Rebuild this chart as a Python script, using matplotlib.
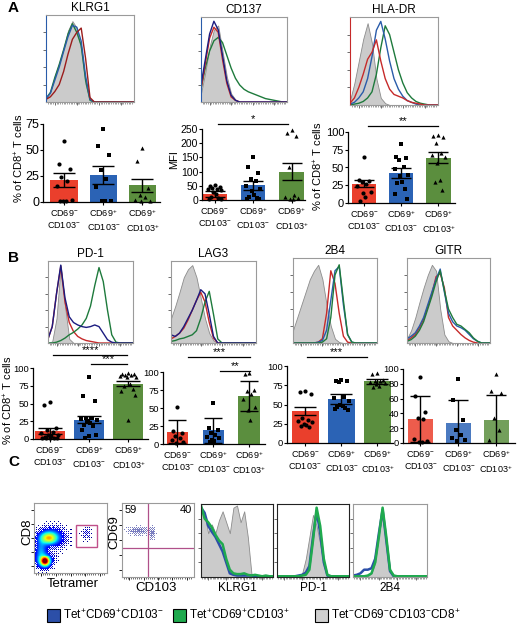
import numpy as np
import matplotlib
matplotlib.use('Agg')
import matplotlib.pyplot as plt
from matplotlib.patches import Rectangle
from matplotlib.colors import ListedColormap

plt.rcParams['font.family'] = ['Liberation Sans', 'DejaVu Sans']
plt.rcParams['mathtext.fontset'] = 'custom'
plt.rcParams['mathtext.rm'] = 'Liberation Sans'
plt.rcParams['mathtext.it'] = 'Liberation Sans:italic'
plt.rcParams['mathtext.bf'] = 'Liberation Sans:bold'

# ---------------- data ----------------
cats = ['CD69$^{-}$\nCD103$^{-}$', 'CD69$^{+}$\nCD103$^{-}$', 'CD69$^{+}$\nCD103$^{+}$']

# panel A bars
a1_means = [21, 26, 16]
a1_err = [7, 9, 6]
a1_red = [59, 37, 32, 24, 20, 15, 2, 1, 1, 1]
a1_blue = [70, 54, 45, 31, 22, 14, 1, 1, 1]
a1_green = [52, 39, 13, 7, 5, 2, 1, 1]

a2_means = [21, 52, 100]
a2_err = [12, 16, 30]
a2_red = [52, 48, 45, 42, 40, 38, 35, 28, 20, 12, 6, 3, 2]
a2_blue = [150, 115, 96, 75, 66, 50, 40, 31, 17, 12, 6, 2, 2]
a2_green = [245, 235, 225, 115, 18, 12, 8, 4, 2]

a3_means = [27, 42, 64]
a3_err = [5, 7, 8]
a3_red = [65, 33, 31, 30, 27, 24, 16, 14, 8, 3]
a3_blue = [83, 65, 63, 60, 50, 48, 40, 38, 30, 28, 20, 12, 5]
a3_green = [96, 95, 93, 85, 70, 68, 65, 56, 32, 30, 18]

# panel B bars
b1_means = [11, 27, 78]
b1_err = [4, 5, 4]
b1_red = [52, 48, 16, 13, 10, 8, 6, 5, 4, 3, 2, 1, 1, 1, 1]
b1_blue = [88, 60, 53, 30, 29, 28, 27, 25, 22, 20, 18, 13, 6, 4, 1]
b1_green = [93, 92, 91, 90, 90, 89, 88, 88, 78, 75, 70, 68, 62, 27]

b2_means = [17, 19, 67]
b2_err = [16, 17, 21]
b2_red = [52, 18, 15, 11, 9, 5, 3, 1]
b2_blue = [57, 22, 20, 15, 12, 10, 8, 6, 4, 3]
b2_green = [99, 97, 75, 73, 70, 62, 52, 47, 33]

b3_means = [42, 57, 80]
b3_err = [5, 6, 3]
b3_red = [68, 66, 64, 32, 30, 28, 27, 25, 24, 22, 21]
b3_blue = [82, 81, 80, 79, 60, 58, 55, 50, 48, 47, 45, 44, 43]
b3_green = [91, 90, 82, 81, 80, 79, 78, 76, 74, 73]

b4_means = [33, 27, 31]
b4_err = [31, 31, 34]
b4_red = [89, 63, 42, 34, 32, 5, 3, 2, 2]
b4_blue = [87, 58, 31, 18, 11, 7, 4, 3]
b4_green = [93, 70, 67, 34, 18, 4]

# histogram curves (fraction of max), common x positions
hist_x = [i / 20 for i in range(21)]
z = [0] * 10

klrg1_gray = [0.05, 0.12, 0.3, 0.45, 0.62, 0.82, 0.93, 0.85, 0.6, 0.2, 0.02] + z
klrg1_red = [0.03, 0.06, 0.12, 0.2, 0.35, 0.55, 0.72, 0.8, 0.85, 0.5, 0.05] + z
klrg1_blue = [0.04, 0.1, 0.25, 0.4, 0.58, 0.75, 0.88, 0.86, 0.7, 0.3, 0.03] + z
klrg1_green = [0.04, 0.11, 0.28, 0.43, 0.6, 0.78, 0.9, 0.8, 0.65, 0.25, 0.02] + z

cd137_gray = [0.1, 0.35, 0.65, 0.85, 0.9, 0.6, 0.3, 0.1, 0.03, 0, 0] + z
cd137_blue = [0.2, 0.5, 0.8, 0.95, 0.85, 0.55, 0.25, 0.08, 0.02, 0, 0] + z
cd137_red = [0.15, 0.45, 0.75, 0.88, 0.82, 0.5, 0.22, 0.06, 0.02, 0, 0] + z
cd137_green = [0.15, 0.4, 0.6, 0.72, 0.76, 0.7, 0.55, 0.4, 0.28, 0.2, 0.15,
               0.12, 0.1, 0.08, 0.06, 0.04, 0.03, 0.02, 0.01, 0, 0]

hla_gray = [0.05, 0.25, 0.5, 0.75, 0.93, 0.7, 0.3, 0.08, 0.02, 0, 0] + z
hla_red = [0.02, 0.08, 0.2, 0.35, 0.52, 0.6, 0.74, 0.5, 0.3, 0.18, 0.12,
           0.1, 0.08, 0.05, 0.03, 0.02, 0.01, 0, 0, 0, 0]
hla_blue = [0.01, 0.03, 0.08, 0.15, 0.3, 0.55, 0.85, 0.95, 0.75, 0.5, 0.3,
            0.18, 0.1, 0.05, 0.03, 0.01, 0, 0, 0, 0, 0]
hla_green = [0, 0.01, 0.02, 0.04, 0.08, 0.15, 0.35, 0.65, 0.9, 0.8, 0.6,
             0.4, 0.25, 0.14, 0.08, 0.04, 0.02, 0.01, 0, 0, 0]

pd1_gray = [0, 0.02, 0.3, 0.95, 0.45, 0.05, 0, 0, 0, 0, 0] + z
pd1_blue = [0.05, 0.2, 0.6, 0.95, 0.55, 0.32, 0.25, 0.22, 0.2, 0.19, 0.2,
            0.22, 0.2, 0.12, 0.04, 0.01, 0, 0, 0, 0, 0]
pd1_red = [0.05, 0.2, 0.6, 0.93, 0.5, 0.25, 0.14, 0.08, 0.05, 0.03, 0.02,
           0.01, 0, 0, 0, 0, 0, 0, 0, 0, 0]
pd1_green = [0, 0, 0.01, 0.03, 0.06, 0.1, 0.13, 0.17, 0.22, 0.3, 0.45,
             0.7, 0.92, 0.75, 0.4, 0.1, 0.01, 0, 0, 0, 0]

lag3_gray = [0.3, 0.45, 0.62, 0.8, 0.9, 0.95, 0.8, 0.55, 0.3, 0.12, 0.03] + z
lag3_red = [0.05, 0.08, 0.12, 0.18, 0.28, 0.4, 0.52, 0.62, 0.5, 0.25, 0.06] + z
lag3_blue = [0.1, 0.08, 0.12, 0.2, 0.3, 0.4, 0.52, 0.65, 0.6, 0.35, 0.08] + z
lag3_green = [0.02, 0.03, 0.05, 0.06, 0.08, 0.1, 0.15, 0.3, 0.5, 0.63, 0.35,
              0.05, 0, 0, 0, 0, 0, 0, 0, 0, 0]

b2b4_gray = [0.15, 0.3, 0.45, 0.6, 0.75, 0.85, 0.92, 0.75, 0.45, 0.2, 0.05,
             0.01, 0, 0, 0, 0, 0, 0, 0, 0, 0]
b2b4_red = [0, 0, 0, 0, 0, 0, 0.01, 0.05, 0.35, 0.85, 0.7,
            0.35, 0.08, 0.01, 0, 0, 0, 0, 0, 0, 0]
b2b4_blue = [0, 0, 0, 0, 0, 0, 0.01, 0.03, 0.15, 0.5, 0.85,
             0.9, 0.45, 0.1, 0.01, 0, 0, 0, 0, 0, 0]
b2b4_green = [0, 0, 0, 0, 0, 0, 0, 0.01, 0.05, 0.3, 0.8,
              0.92, 0.5, 0.1, 0.01, 0, 0, 0, 0, 0, 0]

gitr_gray = [0.05, 0.15, 0.3, 0.48, 0.65, 0.8, 0.92, 0.85, 0.4, 0.1, 0.02] + z
gitr_blue = [0.05, 0.08, 0.12, 0.2, 0.3, 0.45, 0.6, 0.75, 0.87, 0.6, 0.35,
             0.25, 0.2, 0.18, 0.15, 0.1, 0.05, 0.02, 0, 0, 0]
gitr_red = [0.03, 0.06, 0.1, 0.18, 0.28, 0.42, 0.58, 0.78, 0.82, 0.65, 0.3,
            0.2, 0.15, 0.1, 0.06, 0.03, 0.01, 0, 0, 0, 0]
gitr_green = [0.02, 0.04, 0.08, 0.15, 0.25, 0.4, 0.55, 0.72, 0.85, 0.62, 0.4,
              0.3, 0.22, 0.2, 0.16, 0.12, 0.06, 0.02, 0, 0, 0]

c_klrg1_gray = [0.9, 0.85, 0.6, 0.72, 0.6, 0.78, 0.9, 0.75, 0.6, 0.95, 0.98,
                0.75, 0.9, 0.55, 0.05, 0, 0, 0, 0, 0, 0]
c_klrg1_blue = [0.95, 0.88, 0.7, 0.62, 0.55, 0.45, 0.35, 0.2, 0.05, 0.03, 0.02,
                0.02, 0.02, 0.02, 0.02, 0.01, 0.01, 0.01, 0.01, 0.01, 0.01]
c_klrg1_green = [0.98, 0.8, 0.75, 0.68, 0.58, 0.5, 0.45, 0.25, 0.1, 0.05, 0.04,
                 0.04, 0.05, 0.03, 0.02, 0.03, 0.02, 0.01, 0.02, 0.01, 0.01]

c_pd1_gray = [0, 0, 0, 0, 0, 0.01, 0.02, 0.05, 0.25, 0.55, 0.85,
              0.7, 0.45, 0.15, 0.02, 0, 0, 0, 0, 0, 0]
c_pd1_blue = [0.01, 0.01, 0.01, 0.01, 0.01, 0.01, 0.02, 0.03, 0.06, 0.15, 0.55,
              0.9, 0.6, 0.2, 0.02, 0.01, 0.01, 0.01, 0.01, 0.01, 0.01]
c_pd1_green = [0.01, 0.01, 0.01, 0.01, 0.01, 0.01, 0.01, 0.02, 0.03, 0.1, 0.5,
               0.95, 0.7, 0.25, 0.03, 0.01, 0.01, 0.01, 0.01, 0.01, 0.01]

c_2b4_gray = [0, 0, 0, 0, 0.01, 0.05, 0.2, 0.6, 0.85, 0.45, 0.1,
              0.01, 0, 0, 0, 0, 0, 0, 0, 0, 0]
c_2b4_blue = [0.02, 0.03, 0.05, 0.1, 0.1, 0.12, 0.25, 0.6, 0.92, 0.5, 0.08,
              0.01, 0.01, 0.01, 0.01, 0.01, 0.01, 0.01, 0.01, 0.01, 0.01]
c_2b4_green = [0.01, 0.01, 0.01, 0.01, 0.02, 0.05, 0.2, 0.55, 0.95, 0.55, 0.1,
               0.02, 0.01, 0.01, 0.01, 0.01, 0.01, 0.01, 0.01, 0.01, 0.01]

# flow dot plot populations: (x, y, sx, sy, weight)
tet_pops = [(0.15, 0.16, 0.045, 0.045, 0.95),
            (0.13, 0.18, 0.08, 0.08, 0.3),
            (0.2, 0.5, 0.08, 0.055, 0.6),
            (0.24, 0.52, 0.13, 0.09, 0.2),
            (0.09, 0.33, 0.05, 0.1, 0.25),
            (0.3, 0.45, 0.14, 0.2, 0.03),
            (0.72, 0.57, 0.05, 0.08, 0.08)]
cd103_pops = [(0.22, 0.63, 0.1, 0.04, 0.14),
              (0.42, 0.6, 0.03, 0.06, 0.13)]
quad_pct = ['59', '40']

# ---------------- style ----------------
W, H = 520, 624
RED, BLUE, GREEN = '#ea3f2c', '#2b63b5', '#5b8e3e'
H_RED, H_BLUE, H_GREEN, H_NAVY = '#c62a2a', '#2a5caa', '#1e7a3c', '#1c1c80'
C_BLUE, C_GREEN = '#2c4fa8', '#1faa4e'
spread = [0, -0.2, 0.2, -0.1, 0.1, -0.27, 0.27, -0.05, 0.05, -0.15, 0.15,
          -0.24, 0.24, 0.0, -0.12, 0.12]
bayer = np.array([[0, 8, 2, 10], [12, 4, 14, 6], [3, 11, 1, 9], [15, 7, 13, 5]]) / 16

fig = plt.figure(figsize=(5.2, 6.24), dpi=100)


def px_axes(x0, y0, x1, y1):
    return fig.add_axes([x0 / W, 1 - y1 / H, (x1 - x0) / W, (y1 - y0) / H])


def px_text(x, y, s, **kw):
    fig.text(x / W, 1 - y / H, s, **kw)


def bar_panel(box, xlim, means, errs, groups, ylim, yticks, width, fs=8.5, light=False):
    ax = px_axes(*box)
    cols = [RED, BLUE, GREEN]
    alpha = 0.85 if light else 1
    ax.bar(range(3), means, width=width, color=cols, alpha=alpha, zorder=1)
    marks = ['o', 's', '^']
    for i, vals in enumerate(groups):
        xs = [i + spread[k % len(spread)] * width for k in range(len(vals))]
        ax.scatter(xs, vals, marker=marks[i], s=9, color='black', zorder=3,
                   lw=0, clip_on=False)
    ax.errorbar(range(3), means, yerr=errs, fmt='none', ecolor='black',
                elinewidth=1, capsize=width * 11, capthick=1, zorder=4)
    ax.set_xlim(*xlim)
    ax.set_ylim(*ylim)
    ax.set_yticks(yticks)
    ax.set_xticks(range(3))
    ax.set_xticklabels(cats, fontsize=6.5, linespacing=1.3)
    ax.tick_params(axis='y', labelsize=fs, length=2, width=0.8, pad=0.8)
    ax.tick_params(axis='x', length=2, width=0.8, pad=2)
    for s in ['top', 'right']:
        ax.spines[s].set_visible(False)
    for s in ['left', 'bottom']:
        ax.spines[s].set_linewidth(0.9)
    return ax


def sig(ax, x0, x1, y, label):
    ax.plot([x0, x1], [y, y], color='black', lw=0.9, clip_on=False)
    ax.annotate(label, xy=((x0 + x1) / 2, y), xytext=(0, 0),
                textcoords='offset points', ha='center', va='bottom',
                fontsize=8, annotation_clip=False)


def hist_panel(box, gray, curves, title=None, frame='#9a9a9a', lw=1.0):
    ax = px_axes(*box)
    ax.fill_between(hist_x, gray, color='#cbcbcb', ec='#8c8c8c', lw=0.6)
    for y, c in curves:
        ax.plot(hist_x, y, color=c, lw=lw)
    ax.set_xlim(0, 1)
    ax.set_ylim(0, 1)
    ax.set_xticks([0.1, 0.35, 0.6, 0.85])
    ax.set_xticks([0.02 * k for k in range(1, 50)], minor=True)
    ax.set_yticks([0.2, 0.4, 0.6, 0.8])
    ax.set_xticklabels([])
    ax.set_yticklabels([])
    ax.tick_params(which='major', length=2.5, width=0.6, color='#555555')
    ax.tick_params(which='minor', length=1.2, width=0.4, color='#555555')
    for s in ax.spines.values():
        s.set_color(frame)
        s.set_linewidth(0.8)
    if title:
        ax.set_title(title, fontsize=8.5, pad=3)
    return ax


def density(pops, n=72, lo=0.015, span=0.15):
    # smooth density, thinned out with an ordered dither so sparse areas look dotted
    g = np.linspace(0, 1, n)
    X, Y = np.meshgrid(g, g)
    d = np.zeros_like(X)
    for cx, cy, sx, sy, w in pops:
        d += w * np.exp(-((X - cx) ** 2 / (2 * sx ** 2) + (Y - cy) ** 2 / (2 * sy ** 2)))
    thr = lo + span * np.tile(bayer, (n // 4 + 1, n // 4 + 1))[:n, :n]
    return np.ma.masked_where(d < thr, d)


# ---------------- panel A ----------------
px_text(8, 8, 'A', fontsize=11, fontweight='bold', ha='left', va='center')
ax = hist_panel((46, 15, 134, 102), klrg1_gray,
                [(klrg1_green, H_GREEN), (klrg1_blue, H_BLUE), (klrg1_red, '#9b1c1c')], 'KLRG1')
ax.spines['left'].set_color(H_BLUE)
ax = hist_panel((201, 17, 287, 102), cd137_gray,
                [(cd137_green, H_GREEN), (cd137_red, H_RED), (cd137_blue, H_NAVY)], 'CD137')
ax.spines['left'].set_color(H_BLUE)
ax = hist_panel((350, 17, 438, 105), hla_gray,
                [(hla_green, H_GREEN), (hla_blue, H_BLUE), (hla_red, H_RED)], 'HLA-DR')
ax.spines['left'].set_color(H_RED)

ax = bar_panel((43, 124, 160, 202), (-0.54, 2.45), a1_means, a1_err,
               [a1_red, a1_blue, a1_green], (0, 75), [0, 25, 50, 75], 0.7, fs=9)
ax = bar_panel((202, 129, 305, 200), (-0.33, 2.35), a2_means, a2_err,
               [a2_red, a2_blue, a2_green], (0, 250), [0, 50, 100, 150, 200, 250], 0.64,
               fs=7.5)
sig(ax, 0.08, 1.92, 268, '*')
ax = bar_panel((348, 132, 455, 203), (-0.43, 2.45), a3_means, a3_err,
               [a3_red, a3_blue, a3_green], (0, 100), [0, 25, 50, 75, 100], 0.66, fs=8)
sig(ax, 0.1, 2.0, 108, '**')

px_text(19, 158, '% of CD8$^{+}$ T cells', fontsize=8, rotation=90, ha='center', va='center')
px_text(174, 160, 'MFI', fontsize=8, rotation=90, ha='center', va='center')
px_text(318, 166, '% of CD8$^{+}$ T cells', fontsize=8, rotation=90, ha='center', va='center')

# ---------------- panel B ----------------
px_text(8, 258, 'B', fontsize=11, fontweight='bold', ha='left', va='center')
hist_panel((48, 261, 133, 343), pd1_gray,
           [(pd1_red, H_RED), (pd1_green, H_GREEN), (pd1_blue, H_NAVY)], 'PD-1')
hist_panel((171, 261, 256, 343), lag3_gray,
           [(lag3_red, H_RED), (lag3_green, H_GREEN), (lag3_blue, H_NAVY)], 'LAG3')
hist_panel((293, 258, 377, 343), b2b4_gray,
           [(b2b4_red, H_RED), (b2b4_blue, H_BLUE), (b2b4_green, H_GREEN)], '2B4')
hist_panel((407, 258, 490, 343), gitr_gray,
           [(gitr_red, H_RED), (gitr_blue, H_BLUE), (gitr_green, H_GREEN)], 'GITR')

ax = bar_panel((33, 368, 148, 439), (-0.42, 2.5), b1_means, b1_err,
               [b1_red, b1_blue, b1_green], (0, 100), [0, 25, 50, 75, 100], 0.76, fs=6.8)
sig(ax, 0.1, 1.97, 118, '****')
sig(ax, 1.04, 1.97, 106, '***')
ax = bar_panel((163, 372, 265, 444), (-0.4, 2.44), b2_means, b2_err,
               [b2_red, b2_blue, b2_green], (0, 100), [0, 25, 50, 75, 100], 0.6, fs=6.8)
sig(ax, 0.3, 2.03, 121, '***')
sig(ax, 1.2, 2.03, 101, '**')
ax = bar_panel((287, 366, 393, 443), (-0.5, 2.43), b3_means, b3_err,
               [b3_red, b3_blue, b3_green], (0, 100), [0, 25, 50, 75, 100], 0.75, fs=6.8)
sig(ax, 0.05, 1.7, 112, '***')
ax = bar_panel((403, 369, 515, 443), (-0.46, 2.5), b4_means, b4_err,
               [b4_red, b4_blue, b4_green], (0, 100), [0, 20, 40, 60, 80, 100], 0.66,
               fs=6.8, light=True)

px_text(8, 400, '% of CD8$^{+}$ T cells', fontsize=8, rotation=90, ha='center', va='center')

# ---------------- panel C ----------------
px_text(8, 462, 'C', fontsize=11, fontweight='bold', ha='left', va='center')

ax = px_axes(34, 503, 107, 573)
ax.imshow(density(tet_pops), cmap='jet', origin='lower', extent=[0, 1, 0, 1],
          aspect='auto', vmin=0, vmax=1.1, interpolation='nearest')
ax.add_patch(Rectangle((0.58, 0.37), 0.28, 0.32, fill=False, ec='#c0508a', lw=1))
ax2 = px_axes(122, 503, 194, 577)
ax2.imshow(density(cd103_pops, lo=0.01, span=0.15), cmap=ListedColormap(['#7b7fc0']),
           origin='lower', extent=[0, 1, 0, 1], aspect='auto', interpolation='nearest')
ax2.axvline(0.36, color='#b0508a', lw=0.9)
ax2.axhline(0.39, color='#b0508a', lw=0.9)
ax2.text(0.03, 0.97, quad_pct[0], transform=ax2.transAxes, fontsize=8, ha='left', va='top')
ax2.text(0.97, 0.97, quad_pct[1], transform=ax2.transAxes, fontsize=8, ha='right', va='top')
for a in (ax, ax2):
    a.set_xlim(0, 1)
    a.set_ylim(0, 1)
    a.set_xticks([0.1, 0.3, 0.5, 0.7, 0.9])
    a.set_xticks([0.03 * k for k in range(1, 33)], minor=True)
    a.set_yticks([0.1, 0.3, 0.5, 0.7, 0.9])
    a.set_xticklabels([])
    a.set_yticklabels([])
    a.tick_params(which='major', length=2.5, width=0.6)
    a.tick_params(which='minor', length=1.2, width=0.4)
    for s in a.spines.values():
        s.set_color('#9a9a9a')
        s.set_linewidth(0.8)

px_text(27, 532, 'CD8', fontsize=9.5, rotation=90, ha='center', va='center')
px_text(73, 584, 'Tetramer', fontsize=9.5, ha='center', va='center')
px_text(114, 532, 'CD69', fontsize=9.5, rotation=90, ha='center', va='center')
px_text(156, 588, 'CD103', fontsize=9.5, ha='center', va='center')

hist_panel((201, 504, 273, 577), c_klrg1_gray,
           [(c_klrg1_blue, C_BLUE), (c_klrg1_green, C_GREEN)], frame='#222222', lw=1.8)
hist_panel((277, 504, 349, 577), c_pd1_gray,
           [(c_pd1_blue, C_BLUE), (c_pd1_green, C_GREEN)], frame='#222222', lw=1.8)
hist_panel((353, 504, 427, 577), c_2b4_gray,
           [(c_2b4_blue, C_BLUE), (c_2b4_green, C_GREEN)], lw=1.8)
px_text(237, 588, 'KLRG1', fontsize=8.5, ha='center', va='center')
px_text(313, 588, 'PD-1', fontsize=8.5, ha='center', va='center')
px_text(390, 588, '2B4', fontsize=8.5, ha='center', va='center')

# legend
leg = [(47, C_BLUE, 'Tet$^{+}$CD69$^{+}$CD103$^{-}$'),
       (173, C_GREEN, 'Tet$^{+}$CD69$^{+}$CD103$^{+}$'),
       (315, '#cfcfcf', 'Tet$^{-}$CD69$^{-}$CD103$^{-}$CD8$^{+}$')]
for x, c, lab in leg:
    fig.add_artist(Rectangle((x / W, 1 - 622 / H), 13 / W, 13 / H,
                             transform=fig.transFigure, fc=c, ec='black', lw=0.8))
    px_text(x + 16, 615, lab, fontsize=8.5, ha='left', va='center')

fig.savefig('out.png', dpi=100)
